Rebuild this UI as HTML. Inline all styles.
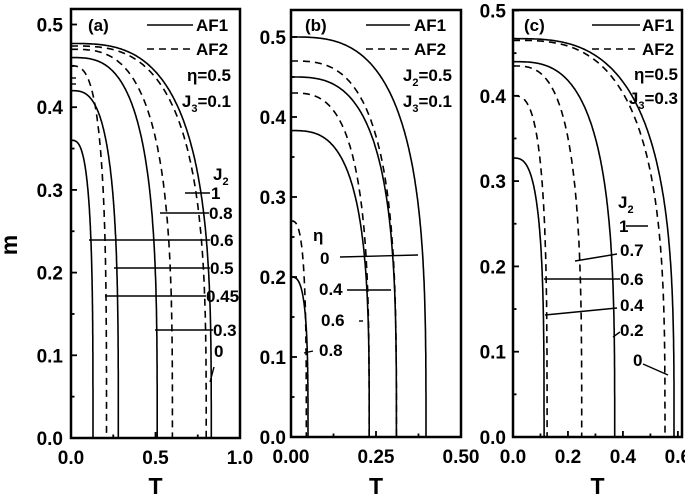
<!DOCTYPE html>
<html><head><meta charset="utf-8"><style>
body{margin:0;background:#fff;}
svg{display:block;font-family:"Liberation Sans",Arial,sans-serif;font-weight:bold;}
</style></head><body>
<svg id="s" width="685" height="497" viewBox="0 0 685 497" xmlns="http://www.w3.org/2000/svg"></svg>
<script>
const s=document.getElementById('s');let h='';
function panel(x0,x1,yTop,y0,xmax,ymaxScale,xt,xminor,xlabels,ylabx){
 const X=t=>x0+t/xmax*(x1-x0), Y=m=>y0-m*ymaxScale;
 h+=`<rect x="${x0}" y="${yTop}" width="${x1-x0}" height="${y0-yTop}" fill="none" stroke="#000" stroke-width="2.5"/>`;
 for(let i=0;i<=10;i++){const m=i*0.05,y=Y(m);if(y<yTop-1)continue;const L=i%2==0?6:3.5;
  h+=`<line x1="${x0}" y1="${y}" x2="${x0+L}" y2="${y}" stroke="#000" stroke-width="1.8"/>`;
  if(i%2==0)h+=`<text x="${ylabx}" y="${y+7}" font-size="19" text-anchor="end">${(m).toFixed(1)}</text>`;}
 xminor.forEach((t,i)=>{const x=X(t);h+=`<line x1="${x}" y1="${y0}" x2="${x}" y2="${y0-(i%2==0?6:3.5)}" stroke="#000" stroke-width="1.8"/>`;});
 xlabels.forEach(([t,l])=>{h+=`<text x="${X(t)}" y="${y0+26}" font-size="19" text-anchor="middle">${l}</text>`;});
 h+=`<text x="${(x0+x1)/2}" y="494" font-size="23" text-anchor="middle">T</text>`;
 return [X,Y];
}
function curve(X,Y,m0,Tc,dash){let p=[];for(let i=0;i<=200;i++){const u=1-Math.pow(1-i/200,2.2);const t=u*Tc;const m=m0*Math.pow(Math.max(0,1-Math.pow(t/Tc,3)),0.3);p.push(X(t).toFixed(1)+','+Y(m).toFixed(1));}
 h+=`<polyline points="${p.join(' ')}" fill="none" stroke="#000" stroke-width="1.6" ${dash?'stroke-dasharray="7,5"':''}/>`;}
function ln(a,b,c,d){h+=`<line x1="${a}" y1="${b}" x2="${c}" y2="${d}" stroke="#000" stroke-width="1.4"/>`;}
function tx(x,y,t,anc,fs){h+=`<text x="${x}" y="${y}" font-size="${fs||17}" text-anchor="${anc||'start'}">${t}</text>`;}
function dl(a,b,c,d){h+=`<line x1="${a}" y1="${b}" x2="${c}" y2="${d}" stroke="#000" stroke-width="1.6" stroke-dasharray="7,5"/>`;}
// Panel a
let [X,Y]=panel(71,240,9,438,1.0,827,null,[0,0.25,0.5,0.75,1.0],[[0,'0.0'],[0.5,'0.5'],[1,'1.0']],63);
curve(X,Y,.477,.83,0);curve(X,Y,.474,.80,1);curve(X,Y,.47,.60,1);curve(X,Y,.46,.51,0);curve(X,Y,.42,.28,0);curve(X,Y,.45,.21,1);curve(X,Y,.36,.13,0);
ln(72,78,76,78);ln(72,84,76,84);
ln(147,25,193,25);tx(196,31,'AF1');dl(147,49,193,49);tx(196,55,'AF2');
tx(231,81,'η=0.5','end');tx(231,107,'J<tspan font-size="11" dy="5">3</tspan><tspan dy="-5">=0.1</tspan>','end');
tx(88,31,'(a)');
tx(213,180,'J<tspan font-size="11" dy="5">2</tspan>');
ln(185,193,210,193);tx(211,199,'1');ln(160,213,209,213);tx(209,219,'0.8');ln(89,240,210,240);tx(210,246,'0.6');
ln(114,268,210,268);tx(210,274,'0.5');ln(105,296,206,296);tx(206,302,'0.45');ln(155,330,213,330);tx(213,336,'0.3');
tx(214,357,'0');ln(210,382,214,367);
// Panel b
[X,Y]=panel(291,461,10,437,0.5,800,null,[0,0.125,0.25,0.375,0.5],[[0,'0.00'],[0.25,'0.25'],[0.5,'0.50']],286);
curve(X,Y,.5,.397,0);curve(X,Y,.45,.31,0);curve(X,Y,.383,.23,0);curve(X,Y,.47,.31,1);curve(X,Y,.43,.23,1);curve(X,Y,.27,.045,1);curve(X,Y,.2,.05,0);
ln(366,25,410,25);tx(414,31,'AF1');dl(366,49,410,49);tx(414,55,'AF2');
tx(452,81,'J<tspan font-size="11" dy="5">2</tspan><tspan dy="-5">=0.5</tspan>','end');tx(452,107,'J<tspan font-size="11" dy="5">3</tspan><tspan dy="-5">=0.1</tspan>','end');
tx(305,31,'(b)');tx(313,241,'η');
tx(320,264,'0');ln(340,257,418,255);tx(319,295,'0.4');ln(347,290,391,290);tx(321,326,'0.6');ln(359,321,363,321);tx(319,356,'0.8');ln(304,353,313,351);
// Panel c
[X,Y]=panel(513,682,10,437,0.615,853,null,[0,0.1,0.2,0.3,0.4,0.5,0.6],[[0,'0.0'],[0.2,'0.2'],[0.4,'0.4'],[0.6,'0.6']],506);
curve(X,Y,.467,.586,0);curve(X,Y,.465,.553,1);curve(X,Y,.44,.37,0);curve(X,Y,.435,.25,1);curve(X,Y,.40,.124,1);curve(X,Y,.327,.113,0);
ln(592,25,640,25);tx(642,31,'AF1');dl(592,49,640,49);tx(642,55,'AF2');
tx(678,80,'η=0.5','end');tx(678,104,'J<tspan font-size="11" dy="5">3</tspan><tspan dy="-5">=0.3</tspan>','end');
tx(524,31,'(c)');tx(618,208,'J<tspan font-size="11" dy="5">2</tspan>');
tx(619,232,'1');ln(626,226,648,226);tx(620,256,'0.7');ln(575,261,617,254);tx(620,285,'0.6');ln(544,279,620,279);
tx(620,311,'0.4');ln(545,315,617,308);tx(620,336,'0.2');ln(613,337,620,332);tx(633,366,'0');ln(643,364,668,375);
h+=`<text x="17" y="245" font-size="23" text-anchor="middle" transform="rotate(-90 17 245)">m</text>`;
s.innerHTML=h;
</script>
</body></html>
